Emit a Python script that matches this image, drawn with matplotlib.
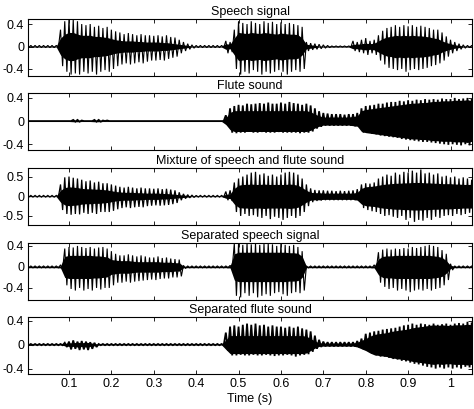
import numpy as np
import matplotlib
matplotlib.use("Agg")
import matplotlib.pyplot as plt

plt.rcParams['font.family'] = ['Liberation Sans', 'DejaVu Sans']
plt.rcParams['axes.unicode_minus'] = False

# sample times of the envelope readings (s)
time = np.round(np.arange(106) * 0.01, 2)

# ---- Speech signal: peak envelope (hi / lo) and dense core amplitude ----
speech_hi = [0.02, 0.02, 0.02, 0.02, 0.02, 0.02, 0.02, 0.02, 0.30, 0.45,
             0.50, 0.48, 0.45, 0.40, 0.38, 0.40, 0.35, 0.37, 0.33, 0.35,
             0.30, 0.27, 0.25, 0.22, 0.24, 0.22, 0.20, 0.22, 0.20, 0.20,
             0.19, 0.20, 0.18, 0.20, 0.17, 0.16, 0.12, 0.08, 0.05, 0.03,
             0.02, 0.02, 0.02, 0.02, 0.02, 0.02, 0.02, 0.10, 0.08, 0.30,
             0.45, 0.42, 0.40, 0.45, 0.42, 0.40, 0.45, 0.42, 0.44, 0.40,
             0.43, 0.40, 0.42, 0.40, 0.38, 0.35, 0.08, 0.06, 0.05, 0.04,
             0.03, 0.02, 0.01, 0.01, 0.01, 0.01, 0.01, 0.10, 0.08, 0.12,
             0.15, 0.10, 0.12, 0.20, 0.28, 0.33, 0.35, 0.38, 0.35, 0.38,
             0.36, 0.38, 0.35, 0.37, 0.35, 0.33, 0.30, 0.30, 0.25, 0.18,
             0.12, 0.08, 0.05, 0.03, 0.02, 0.02]
speech_lo = [-0.02, -0.02, -0.02, -0.02, -0.02, -0.02, -0.02, -0.02, -0.35, -0.45,
             -0.50, -0.48, -0.50, -0.45, -0.48, -0.45, -0.50, -0.45, -0.42, -0.45,
             -0.40, -0.35, -0.32, -0.30, -0.32, -0.30, -0.28, -0.30, -0.27, -0.25,
             -0.25, -0.24, -0.25, -0.22, -0.20, -0.18, -0.12, -0.08, -0.05, -0.03,
             -0.02, -0.02, -0.02, -0.02, -0.02, -0.02, -0.02, -0.12, -0.10, -0.40,
             -0.50, -0.45, -0.48, -0.42, -0.45, -0.50, -0.45, -0.48, -0.45, -0.42,
             -0.45, -0.50, -0.45, -0.42, -0.45, -0.40, -0.08, -0.06, -0.05, -0.04,
             -0.03, -0.02, -0.01, -0.01, -0.01, -0.01, -0.01, -0.08, -0.10, -0.12,
             -0.15, -0.12, -0.15, -0.25, -0.32, -0.38, -0.40, -0.42, -0.40, -0.45,
             -0.42, -0.40, -0.42, -0.40, -0.38, -0.35, -0.33, -0.30, -0.25, -0.18,
             -0.12, -0.08, -0.05, -0.03, -0.02, -0.02]
speech_core = [0.01, 0.01, 0.01, 0.01, 0.01, 0.01, 0.01, 0.01, 0.15, 0.22,
               0.25, 0.25, 0.22, 0.20, 0.20, 0.20, 0.18, 0.18, 0.17, 0.16,
               0.14, 0.12, 0.11, 0.10, 0.10, 0.10, 0.09, 0.09, 0.08, 0.08,
               0.08, 0.08, 0.07, 0.07, 0.06, 0.05, 0.04, 0.03, 0.02, 0.01,
               0.01, 0.01, 0.01, 0.01, 0.01, 0.01, 0.01, 0.05, 0.04, 0.15,
               0.25, 0.24, 0.23, 0.25, 0.24, 0.23, 0.25, 0.24, 0.23, 0.22,
               0.24, 0.23, 0.22, 0.22, 0.21, 0.15, 0.04, 0.03, 0.02, 0.01,
               0.01, 0.01, 0.01, 0.01, 0.01, 0.01, 0.01, 0.04, 0.04, 0.05,
               0.06, 0.05, 0.06, 0.10, 0.14, 0.17, 0.18, 0.20, 0.19, 0.20,
               0.19, 0.20, 0.19, 0.19, 0.18, 0.17, 0.15, 0.14, 0.10, 0.07,
               0.05, 0.03, 0.02, 0.01, 0.01, 0.01]

# ---- Flute sound ----
flute_hi = [0.00, 0.00, 0.00, 0.00, 0.00, 0.00, 0.00, 0.00, 0.00, 0.00,
            0.00, 0.02, 0.02, 0.01, 0.00, 0.00, 0.02, 0.02, 0.01, 0.01,
            0.00, 0.00, 0.00, 0.00, 0.00, 0.00, 0.00, 0.00, 0.00, 0.00,
            0.00, 0.00, 0.00, 0.00, 0.00, 0.00, 0.00, 0.00, 0.00, 0.00,
            0.00, 0.00, 0.00, 0.00, 0.00, 0.00, 0.00, 0.10, 0.22, 0.26,
            0.28, 0.27, 0.30, 0.29, 0.30, 0.31, 0.30, 0.32, 0.30, 0.30,
            0.32, 0.30, 0.33, 0.31, 0.30, 0.28, 0.30, 0.27, 0.22, 0.17,
            0.14, 0.13, 0.12, 0.12, 0.12, 0.11, 0.12, 0.12, 0.14, 0.22,
            0.26, 0.27, 0.28, 0.30, 0.30, 0.32, 0.33, 0.33, 0.35, 0.34,
            0.36, 0.35, 0.37, 0.36, 0.38, 0.37, 0.38, 0.37, 0.39, 0.38,
            0.38, 0.40, 0.38, 0.39, 0.40, 0.38]
flute_lo = [0.00, 0.00, 0.00, 0.00, 0.00, 0.00, 0.00, 0.00, 0.00, 0.00,
            0.00, -0.01, -0.01, 0.00, 0.00, 0.00, -0.01, -0.01, 0.00, 0.00,
            0.00, 0.00, 0.00, 0.00, 0.00, 0.00, 0.00, 0.00, 0.00, 0.00,
            0.00, 0.00, 0.00, 0.00, 0.00, 0.00, 0.00, 0.00, 0.00, 0.00,
            0.00, 0.00, 0.00, 0.00, 0.00, 0.00, 0.00, -0.08, -0.20, -0.21,
            -0.20, -0.20, -0.18, -0.20, -0.20, -0.19, -0.20, -0.20, -0.20, -0.19,
            -0.20, -0.20, -0.20, -0.20, -0.21, -0.20, -0.20, -0.18, -0.13, -0.10,
            -0.08, -0.08, -0.08, -0.08, -0.08, -0.08, -0.08, -0.09, -0.10, -0.20,
            -0.20, -0.22, -0.23, -0.25, -0.26, -0.27, -0.28, -0.29, -0.31, -0.32,
            -0.33, -0.34, -0.35, -0.36, -0.36, -0.37, -0.38, -0.39, -0.40, -0.41,
            -0.40, -0.41, -0.42, -0.40, -0.42, -0.38]
flute_core = [0.008, 0.008, 0.008, 0.008, 0.008, 0.008, 0.008, 0.008, 0.008, 0.008,
              0.008, 0.012, 0.012, 0.008, 0.008, 0.008, 0.012, 0.012, 0.008, 0.008,
              0.008, 0.008, 0.008, 0.008, 0.008, 0.008, 0.008, 0.008, 0.008, 0.008,
              0.008, 0.008, 0.008, 0.008, 0.008, 0.008, 0.008, 0.008, 0.008, 0.008,
              0.008, 0.008, 0.008, 0.008, 0.008, 0.008, 0.008, 0.06, 0.15, 0.18,
              0.18, 0.18, 0.18, 0.18, 0.18, 0.18, 0.18, 0.18, 0.18, 0.18,
              0.18, 0.18, 0.18, 0.18, 0.18, 0.18, 0.18, 0.16, 0.12, 0.09,
              0.07, 0.07, 0.07, 0.07, 0.07, 0.07, 0.07, 0.08, 0.09, 0.18,
              0.20, 0.21, 0.22, 0.23, 0.24, 0.25, 0.26, 0.27, 0.28, 0.29,
              0.30, 0.31, 0.31, 0.32, 0.32, 0.33, 0.34, 0.34, 0.35, 0.35,
              0.35, 0.36, 0.36, 0.36, 0.37, 0.35]

# ---- Mixture of speech and flute sound ----
mix_hi = [0.02, 0.02, 0.02, 0.02, 0.02, 0.02, 0.02, 0.02, 0.30, 0.48,
          0.50, 0.47, 0.45, 0.42, 0.38, 0.40, 0.35, 0.37, 0.33, 0.33,
          0.30, 0.27, 0.24, 0.22, 0.24, 0.22, 0.20, 0.22, 0.20, 0.20,
          0.19, 0.20, 0.18, 0.19, 0.17, 0.15, 0.10, 0.06, 0.04, 0.03,
          0.02, 0.02, 0.02, 0.02, 0.02, 0.02, 0.02, 0.12, 0.15, 0.35,
          0.45, 0.50, 0.55, 0.60, 0.62, 0.55, 0.58, 0.52, 0.55, 0.50,
          0.55, 0.60, 0.62, 0.60, 0.55, 0.45, 0.30, 0.20, 0.16, 0.15,
          0.15, 0.14, 0.14, 0.13, 0.14, 0.13, 0.14, 0.15, 0.18, 0.30,
          0.33, 0.32, 0.35, 0.45, 0.50, 0.55, 0.52, 0.60, 0.55, 0.62,
          0.60, 0.65, 0.60, 0.68, 0.58, 0.60, 0.55, 0.58, 0.50, 0.52,
          0.48, 0.50, 0.45, 0.48, 0.45, 0.42]
mix_lo = [-0.02, -0.02, -0.02, -0.02, -0.02, -0.02, -0.02, -0.02, -0.35, -0.45,
          -0.47, -0.45, -0.46, -0.42, -0.45, -0.42, -0.45, -0.40, -0.40, -0.40,
          -0.37, -0.33, -0.30, -0.28, -0.30, -0.28, -0.27, -0.28, -0.25, -0.24,
          -0.23, -0.24, -0.23, -0.22, -0.20, -0.17, -0.10, -0.06, -0.04, -0.03,
          -0.02, -0.02, -0.02, -0.02, -0.02, -0.02, -0.02, -0.10, -0.12, -0.40,
          -0.50, -0.45, -0.50, -0.48, -0.52, -0.55, -0.50, -0.58, -0.52, -0.55,
          -0.60, -0.55, -0.50, -0.55, -0.50, -0.40, -0.25, -0.15, -0.12, -0.11,
          -0.10, -0.10, -0.10, -0.10, -0.10, -0.10, -0.10, -0.10, -0.12, -0.30,
          -0.35, -0.38, -0.40, -0.45, -0.50, -0.48, -0.52, -0.55, -0.50, -0.60,
          -0.55, -0.65, -0.60, -0.62, -0.55, -0.60, -0.52, -0.55, -0.50, -0.48,
          -0.50, -0.45, -0.48, -0.45, -0.42, -0.40]
mix_core = [0.01, 0.01, 0.01, 0.01, 0.01, 0.01, 0.01, 0.01, 0.15, 0.22,
            0.24, 0.23, 0.22, 0.20, 0.19, 0.19, 0.18, 0.18, 0.17, 0.16,
            0.14, 0.12, 0.11, 0.10, 0.10, 0.10, 0.09, 0.09, 0.08, 0.08,
            0.08, 0.08, 0.07, 0.07, 0.06, 0.05, 0.04, 0.03, 0.02, 0.01,
            0.01, 0.01, 0.01, 0.01, 0.01, 0.01, 0.01, 0.05, 0.06, 0.20,
            0.28, 0.30, 0.30, 0.31, 0.30, 0.30, 0.31, 0.30, 0.30, 0.30,
            0.30, 0.30, 0.31, 0.30, 0.28, 0.22, 0.15, 0.10, 0.09, 0.09,
            0.08, 0.08, 0.08, 0.08, 0.08, 0.08, 0.08, 0.08, 0.10, 0.20,
            0.24, 0.25, 0.26, 0.28, 0.30, 0.31, 0.32, 0.33, 0.33, 0.34,
            0.34, 0.35, 0.35, 0.35, 0.34, 0.34, 0.33, 0.33, 0.32, 0.32,
            0.32, 0.31, 0.31, 0.30, 0.30, 0.30]

# ---- Separated speech signal ----
sep_speech_hi = [0.02, 0.02, 0.02, 0.02, 0.02, 0.02, 0.02, 0.02, 0.04, 0.35,
                 0.38, 0.37, 0.40, 0.38, 0.36, 0.38, 0.35, 0.37, 0.38, 0.35,
                 0.30, 0.25, 0.22, 0.22, 0.24, 0.22, 0.20, 0.22, 0.20, 0.18,
                 0.18, 0.20, 0.17, 0.18, 0.16, 0.15, 0.14, 0.03, 0.02, 0.02,
                 0.02, 0.02, 0.02, 0.02, 0.02, 0.02, 0.02, 0.02, 0.03, 0.45,
                 0.45, 0.42, 0.45, 0.43, 0.45, 0.42, 0.44, 0.45, 0.43, 0.40,
                 0.45, 0.42, 0.40, 0.42, 0.38, 0.30, 0.02, 0.02, 0.02, 0.02,
                 0.02, 0.02, 0.02, 0.02, 0.02, 0.02, 0.02, 0.02, 0.02, 0.02,
                 0.02, 0.02, 0.04, 0.28, 0.33, 0.35, 0.33, 0.35, 0.34, 0.36,
                 0.35, 0.38, 0.36, 0.38, 0.40, 0.42, 0.40, 0.38, 0.32, 0.25,
                 0.06, 0.02, 0.02, 0.02, 0.02, 0.02]
sep_speech_lo = [-0.02, -0.02, -0.02, -0.02, -0.02, -0.02, -0.02, -0.02, -0.04, -0.35,
                 -0.42, -0.45, -0.40, -0.45, -0.42, -0.45, -0.40, -0.43, -0.40, -0.40,
                 -0.35, -0.30, -0.30, -0.28, -0.30, -0.28, -0.27, -0.26, -0.25, -0.24,
                 -0.25, -0.23, -0.22, -0.22, -0.20, -0.20, -0.18, -0.03, -0.02, -0.02,
                 -0.02, -0.02, -0.02, -0.02, -0.02, -0.02, -0.02, -0.02, -0.03, -0.55,
                 -0.58, -0.50, -0.55, -0.50, -0.58, -0.55, -0.52, -0.55, -0.50, -0.48,
                 -0.52, -0.55, -0.50, -0.48, -0.50, -0.45, -0.02, -0.02, -0.02, -0.02,
                 -0.02, -0.02, -0.02, -0.02, -0.02, -0.02, -0.02, -0.02, -0.02, -0.02,
                 -0.02, -0.02, -0.04, -0.30, -0.38, -0.42, -0.40, -0.45, -0.42, -0.45,
                 -0.48, -0.45, -0.43, -0.45, -0.42, -0.45, -0.42, -0.40, -0.35, -0.25,
                 -0.06, -0.02, -0.02, -0.02, -0.02, -0.02]
sep_speech_core = [0.015, 0.015, 0.015, 0.015, 0.015, 0.015, 0.015, 0.015, 0.02, 0.20,
                   0.22, 0.22, 0.22, 0.22, 0.22, 0.22, 0.21, 0.21, 0.20, 0.19,
                   0.14, 0.13, 0.12, 0.12, 0.12, 0.11, 0.10, 0.10, 0.10, 0.10,
                   0.10, 0.10, 0.09, 0.09, 0.09, 0.08, 0.08, 0.015, 0.015, 0.015,
                   0.015, 0.015, 0.015, 0.015, 0.015, 0.015, 0.015, 0.015, 0.02, 0.25,
                   0.28, 0.28, 0.28, 0.28, 0.28, 0.28, 0.28, 0.28, 0.28, 0.28,
                   0.28, 0.28, 0.27, 0.27, 0.26, 0.20, 0.015, 0.015, 0.015, 0.015,
                   0.015, 0.015, 0.015, 0.015, 0.015, 0.015, 0.015, 0.015, 0.015, 0.015,
                   0.015, 0.015, 0.02, 0.15, 0.20, 0.21, 0.21, 0.22, 0.22, 0.22,
                   0.22, 0.22, 0.22, 0.22, 0.22, 0.22, 0.21, 0.20, 0.18, 0.12,
                   0.03, 0.015, 0.015, 0.015, 0.015, 0.015]

# ---- Separated flute sound ----
sep_flute_hi = [0.01, 0.01, 0.01, 0.01, 0.01, 0.01, 0.01, 0.01, 0.01, 0.03,
                0.05, 0.07, 0.05, 0.06, 0.05, 0.04, 0.03, 0.01, 0.01, 0.01,
                0.01, 0.01, 0.01, 0.01, 0.01, 0.01, 0.01, 0.01, 0.01, 0.01,
                0.01, 0.01, 0.01, 0.01, 0.01, 0.01, 0.01, 0.01, 0.01, 0.01,
                0.01, 0.01, 0.01, 0.01, 0.01, 0.01, 0.01, 0.20, 0.30, 0.32,
                0.30, 0.33, 0.35, 0.33, 0.35, 0.32, 0.33, 0.30, 0.32, 0.30,
                0.30, 0.28, 0.30, 0.28, 0.30, 0.27, 0.25, 0.22, 0.15, 0.08,
                0.05, 0.04, 0.04, 0.04, 0.04, 0.04, 0.04, 0.04, 0.06, 0.10,
                0.18, 0.20, 0.22, 0.23, 0.25, 0.26, 0.27, 0.28, 0.30, 0.32,
                0.33, 0.35, 0.33, 0.35, 0.34, 0.33, 0.35, 0.33, 0.34, 0.35,
                0.33, 0.35, 0.36, 0.35, 0.38, 0.37]
sep_flute_lo = [-0.01, -0.01, -0.01, -0.01, -0.01, -0.01, -0.01, -0.01, -0.01, -0.04,
                -0.08, -0.07, -0.09, -0.08, -0.09, -0.07, -0.04, -0.01, -0.01, -0.01,
                -0.01, -0.01, -0.01, -0.01, -0.01, -0.01, -0.01, -0.01, -0.01, -0.01,
                -0.01, -0.01, -0.01, -0.01, -0.01, -0.01, -0.01, -0.01, -0.01, -0.01,
                -0.01, -0.01, -0.01, -0.01, -0.01, -0.01, -0.01, -0.10, -0.18, -0.18,
                -0.17, -0.18, -0.18, -0.17, -0.18, -0.18, -0.17, -0.18, -0.19, -0.18,
                -0.18, -0.17, -0.18, -0.20, -0.18, -0.17, -0.16, -0.12, -0.07, -0.04,
                -0.03, -0.03, -0.03, -0.03, -0.03, -0.03, -0.03, -0.03, -0.05, -0.08,
                -0.10, -0.15, -0.18, -0.20, -0.20, -0.22, -0.24, -0.25, -0.27, -0.28,
                -0.30, -0.32, -0.33, -0.35, -0.37, -0.38, -0.40, -0.38, -0.40, -0.38,
                -0.40, -0.38, -0.40, -0.37, -0.38, -0.36]
sep_flute_core = [0.006, 0.006, 0.006, 0.006, 0.006, 0.006, 0.006, 0.006, 0.006, 0.02,
                  0.03, 0.03, 0.04, 0.03, 0.04, 0.03, 0.02, 0.006, 0.006, 0.006,
                  0.006, 0.006, 0.006, 0.006, 0.006, 0.006, 0.006, 0.006, 0.006, 0.006,
                  0.006, 0.006, 0.006, 0.006, 0.006, 0.006, 0.006, 0.006, 0.006, 0.006,
                  0.006, 0.006, 0.006, 0.006, 0.006, 0.006, 0.006, 0.08, 0.15, 0.15,
                  0.15, 0.15, 0.15, 0.15, 0.15, 0.15, 0.15, 0.15, 0.15, 0.15,
                  0.15, 0.15, 0.15, 0.15, 0.15, 0.15, 0.14, 0.10, 0.06, 0.03,
                  0.025, 0.025, 0.025, 0.025, 0.025, 0.025, 0.025, 0.025, 0.04, 0.07,
                  0.10, 0.14, 0.17, 0.18, 0.19, 0.20, 0.22, 0.23, 0.24, 0.25,
                  0.26, 0.28, 0.29, 0.30, 0.31, 0.32, 0.33, 0.32, 0.33, 0.32,
                  0.32, 0.33, 0.33, 0.33, 0.34, 0.33]

titles = ["Speech signal", "Flute sound", "Mixture of speech and flute sound",
          "Separated speech signal", "Separated flute sound"]
ytick_values = [[-0.4, 0, 0.4], [-0.4, 0, 0.4], [-0.5, 0, 0.5],
                [-0.4, 0, 0.4], [-0.4, 0, 0.4]]
ytick_labels = [["-0.4", "0", "0.4"], ["-0.4", "0", "0.4"], ["-0.5", "0", "0.5"],
                ["-0.4", "0", "0.4"], ["-0.4", "0", "0.4"]]
xtick_values = [0.1, 0.2, 0.3, 0.4, 0.5, 0.6, 0.7, 0.8, 0.9, 1.0]
xtick_labels = ["0.1", "0.2", "0.3", "0.4", "0.5", "0.6", "0.7", "0.8", "0.9", "1"]

signals = [(speech_hi, speech_lo, speech_core),
           (flute_hi, flute_lo, flute_core),
           (mix_hi, mix_lo, mix_core),
           (sep_speech_hi, sep_speech_lo, sep_speech_core),
           (sep_flute_hi, sep_flute_lo, sep_flute_core)]

# layout / style
ylims = [(-0.52, 0.49), (-0.50, 0.48), (-0.73, 0.71), (-0.63, 0.45), (-0.49, 0.455)]
wave_lw = [0.8, 1.3, 0.9, 0.8, 1.3]
W, H = 474, 409
left_px, right_px = 28.3, 471.7
tops_px = [19.0, 93.3, 168.3, 243.3, 317.3]
h_px = 56.7
FS = 9

fig = plt.figure(figsize=(W / 100, H / 100), dpi=100)
for i, (hi, lo, core) in enumerate(signals):
    top = tops_px[i]
    ax = fig.add_axes([left_px / W, 1 - (top + h_px) / H,
                       (right_px - left_px) / W, h_px / H])
    c = np.array(core)
    # dense core of the waveform
    ax.fill_between(time, -c, c, color='black', lw=0)
    # waveform trace: each reading's peak then its trough, half a step later
    wx = np.column_stack([time, time + 0.005]).ravel()
    wy = np.column_stack([hi, lo]).ravel()
    ax.plot(wx, wy, color='black', lw=wave_lw[i], solid_joinstyle='miter')
    ax.set_xlim(0.004, 1.05)
    ax.set_ylim(*ylims[i])
    ax.set_xticks(xtick_values)
    if i == 4:
        ax.set_xticklabels(xtick_labels, fontsize=FS)
        ax.set_xlabel("Time (s)", fontsize=FS, labelpad=2)
    else:
        ax.set_xticklabels([])
    ax.set_yticks(ytick_values[i])
    ax.set_yticklabels(ytick_labels[i], fontsize=FS)
    ax.tick_params(direction='in', length=3, width=0.6, top=True, right=True, pad=3)
    for s in ax.spines.values():
        s.set_linewidth(0.8)
    ax.set_title(titles[i], fontsize=FS, pad=3)

fig.savefig("out.png", dpi=100)
